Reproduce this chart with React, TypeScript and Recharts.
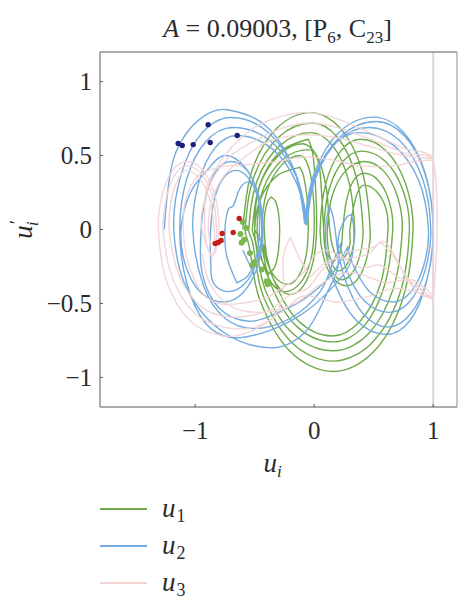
import { ComposedChart, Line, Scatter, XAxis, YAxis, ReferenceLine, Legend } from 'recharts';

const xTicks = [-1, 0, 1];
const yTicks = [-1, -0.5, 0, 0.5, 1];

// u1 trajectory
const u1Path = [
  [-0.6, 0], [-0.524, 0.395], [-0.315, 0.684], [-0.03, 0.79], [0.22, 0.684], [0.403, 0.395], [0.47, 0], [0.443, -0.19], [0.37, -0.33], [0.27, -0.38], [0.16, -0.33], [0.08, -0.19], [0.05, 0], [0.096, 0.305], [0.22, 0.528], [0.39, 0.61], [0.61, 0.528], [0.77, 0.305], [0.83, 0], [0.74, -0.48], [0.495, -0.83], [0.16, -0.96], [-0.195, -0.83], [-0.455, -0.48], [-0.55, -0.1],
  [-0.58, 0], [-0.505, 0.36], [-0.3, 0.624], [-0.02, 0.72], [0.195, 0.624], [0.352, 0.36], [0.41, 0], [0.385, -0.17], [0.32, -0.294], [0.23, -0.34], [0.155, -0.294], [0.1, -0.17], [0.08, 0], [0.123, 0.265], [0.24, 0.46], [0.4, 0.53], [0.6, 0.46], [0.746, 0.265], [0.8, 0], [0.715, -0.445], [0.48, -0.77], [0.16, -0.89], [-0.18, -0.77], [-0.43, -0.445], [-0.52, -0.08],
  [-0.55, 0], [-0.48, 0.328], [-0.29, 0.567], [-0.03, 0.655], [0.155, 0.567], [0.29, 0.328], [0.34, 0], [0.32, -0.14], [0.27, -0.242], [0.2, -0.28], [0.155, -0.242], [0.12, -0.14], [0.11, 0], [0.152, 0.23], [0.265, 0.398], [0.42, 0.46], [0.58, 0.398], [0.697, 0.23], [0.74, 0], [0.66, -0.41], [0.45, -0.71], [0.16, -0.82], [-0.17, -0.71], [-0.41, -0.41], [-0.5, -0.06],
  [-0.52, 0], [-0.457, 0.305], [-0.285, 0.528], [-0.05, 0.61], [-0.015, 0.528], [0.01, 0.305], [0.02, 0], [-0.01, -0.22], [-0.09, -0.38], [-0.2, -0.44], [-0.31, -0.38], [-0.39, -0.22], [-0.42, 0], [-0.415, 0.11], [-0.39, 0.19], [-0.36, 0.22], [-0.325, 0.19], [-0.3, 0.11], [-0.29, 0], [-0.3, -0.14], [-0.33, -0.25], [-0.38, -0.3], [-0.47, -0.15],
  [-0.5, 0], [-0.45, 0.21], [-0.31, 0.364], [-0.12, 0.42], [-0.09, 0.364], [-0.06, 0.21], [-0.05, 0], [-0.07, -0.185], [-0.135, -0.32], [-0.22, -0.37], [-0.33, -0.32], [-0.41, -0.185], [-0.44, 0],
  [-0.4, 0.25], [-0.28, 0.43], [-0.12, 0.5], [-0.05, 0.43], [-0.01, 0.25], [0, 0], [-0.03, -0.21], [-0.12, -0.364], [-0.25, -0.42], [-0.36, -0.36], [-0.44, -0.2], [-0.48, 0],
  [-0.43, 0.27], [-0.27, 0.47], [-0.05, 0.54], [0.03, 0.47], [0.06, 0.27], [0.08, 0], [0.1, -0.15], [0.16, -0.22], [0.22, -0.15], [0.24, 0], [0.27, 0.19], [0.33, 0.33], [0.42, 0.38], [0.54, 0.33], [0.63, 0.19], [0.66, 0], [0.59, -0.38], [0.41, -0.66], [0.16, -0.76], [-0.14, -0.66], [-0.36, -0.38], [-0.46, -0.05],
  [-0.5, 0], [-0.46, 0.29], [-0.3, 0.5], [-0.1, 0.58], [0.02, 0.5], [0.1, 0.29], [0.13, 0], [0.15, -0.1], [0.18, -0.17], [0.22, -0.2], [0.27, -0.17], [0.3, -0.1], [0.3, 0], [0.33, 0.15], [0.37, 0.26], [0.42, 0.3], [0.52, 0.26], [0.6, 0.15], [0.62, 0], [0.56, -0.36], [0.385, -0.62], [0.15, -0.72], [-0.13, -0.62], [-0.33, -0.36], [-0.42, -0.1],
];

// u2 trajectory
const u2Path = [
  [-1.26, 0], [-1.2, 0.42], [-1.1, 0.62], [-0.92, 0.77], [-0.73, 0.81], [-0.405, 0.7], [-0.17, 0.405], [-0.08, 0.04], [0, 0.38], [0.21, 0.658], [0.5, 0.76], [0.75, 0.658], [0.933, 0.38], [1, 0], [0.943, -0.355], [0.805, -0.615], [0.61, -0.71], [0.355, -0.615], [0.168, -0.355], [0.1, -0.12], [0.1, 0.05], [0.13, 0.155], [0.16, 0.08], [0.19, -0.1], [0.2, -0.25], [0.125, -0.4], [-0.075, -0.693], [-0.35, -0.8], [-0.765, -0.693], [-1.07, -0.4],
  [-1.18, 0], [-1.116, 0.378], [-0.94, 0.656], [-0.7, 0.757], [-0.385, 0.656], [-0.155, 0.378], [-0.07, 0.03], [0.01, 0.365], [0.225, 0.632], [0.52, 0.73], [0.76, 0.632], [0.936, 0.365], [1, 0], [0.95, -0.33], [0.81, -0.57], [0.62, -0.66], [0.41, -0.57], [0.256, -0.33], [0.2, -0.1], [0.22, 0], [0.27, 0.08], [0.31, 0.1], [0.33, 0.03], [0.33, -0.12], [0.29, -0.25], [0.12, -0.42], [-0.1, -0.57], [-0.4, -0.69], [-0.7, -0.73], [-0.915, -0.632], [-1.07, -0.365],
  [-1.13, 0], [-1.07, 0.345], [-0.905, 0.6], [-0.68, 0.69], [-0.37, 0.6], [-0.143, 0.345], [-0.06, 0.03], [0.01, 0.345], [0.2, 0.6], [0.46, 0.69], [0.72, 0.6], [0.91, 0.345], [0.98, 0], [0.93, -0.28], [0.805, -0.485], [0.63, -0.56], [0.425, -0.485], [0.275, -0.28], [0.22, -0.1], [0.17, -0.2], [0.05, -0.42], [-0.2, -0.6], [-0.5, -0.67], [-0.75, -0.6], [-0.93, -0.38],
  [-1.02, 0], [-0.97, 0.318], [-0.835, 0.55], [-0.65, 0.635], [-0.36, 0.55], [-0.15, 0.318], [-0.07, 0.03], [-0.01, 0.328], [0.155, 0.567], [0.38, 0.655], [0.67, 0.567], [0.88, 0.328], [0.96, 0], [0.92, -0.245], [0.81, -0.424], [0.66, -0.49], [0.47, -0.424], [0.33, -0.245], [0.28, -0.12], [0.15, -0.3], [-0.05, -0.45], [-0.3, -0.56], [-0.55, -0.62], [-0.8, -0.53],
  [-0.94, -0.3], [-0.95, 0], [-0.908, 0.23], [-0.82, 0.4], [-0.7, 0.46], [-0.565, 0.4], [-0.466, 0.23], [-0.43, 0], [-0.475, -0.245], [-0.595, -0.424], [-0.76, -0.49], [-0.955, -0.424], [-1.08, -0.245], [-1.12, 0], [-1.04, 0.25], [-0.9, 0.4], [-0.75, 0.5], [-0.58, 0.42], [-0.48, 0.25],
  [-0.44, 0], [-0.48, -0.21], [-0.58, -0.364], [-0.72, -0.42], [-0.845, -0.364], [-0.87, -0.21], [-0.87, 0], [-0.84, 0.2], [-0.765, 0.346], [-0.66, 0.4], [-0.55, 0.346], [-0.47, 0.2],
  [-0.46, 0], [-0.485, -0.18], [-0.555, -0.31], [-0.65, -0.36], [-0.735, -0.18], [-0.75, 0], [-0.72, 0.14], [-0.68, 0.16], [-0.625, 0.277], [-0.56, 0.32], [-0.495, 0.277], [-0.447, 0.16], [-0.43, 0], [-0.45, -0.16], [-0.53, -0.26], [-0.6, -0.14],
];

// u3 trajectory
const u3Path = [
  [1, 0.47], [1, -0.47], [0.9, -0.44], [0.8, -0.36], [0.7, -0.22], [0.6, -0.12], [0.55, -0.09], [0.47, -0.16], [0.33, -0.19], [0.13, -0.21], [-0.03, -0.32], [-0.12, -0.2], [-0.2, -0.05], [-0.26, -0.18], [-0.26, -0.4], [-0.33, -0.58], [-0.54, -0.69], [-0.76, -0.72], [-1.035, -0.624], [-1.236, -0.36], [-1.31, 0], [-1.278, 0.23], [-1.19, 0.4], [-1.07, 0.46], [-0.935, 0.4], [-0.834, 0.23], [-0.8, 0], [-0.83, -0.15], [-0.87, -0.17], [-0.91, -0.08], [-0.92, 0.05], [-0.9, 0.3], [-0.76, 0.49], [-0.6, 0.63], [-0.43, 0.72], [-0.2, 0.78], [-0.03, 0.79], [0.19, 0.75], [0.47, 0.655], [0.75, 0.55],
  [1, 0.47], [1, -0.47], [0.85, -0.42], [0.66, -0.4], [0.47, -0.45], [0.19, -0.49], [-0.09, -0.45], [-0.26, -0.55], [-0.5, -0.66], [-0.76, -0.66], [-1, -0.57], [-1.19, -0.33], [-1.27, 0], [-1.24, 0.22], [-1.17, 0.37], [-1.07, 0.43], [-0.94, 0.37], [-0.85, 0.21], [-0.82, 0], [-0.83, -0.12], [-0.86, -0.19], [-0.9, -0.12], [-0.95, 0.04], [-0.92, 0.2], [-0.84, 0.36], [-0.7, 0.5], [-0.5, 0.6], [-0.25, 0.69], [-0.03, 0.72], [0.19, 0.69], [0.47, 0.61], [0.75, 0.52],
  [1, 0.46], [1, -0.46], [0.88, -0.4], [0.76, -0.3], [0.65, -0.14], [0.58, -0.08], [0.5, -0.12], [0.36, -0.14], [0.2, -0.18], [0.06, -0.28], [-0.06, -0.4], [-0.2, -0.44], [-0.36, -0.54], [-0.6, -0.59], [-0.8, -0.58], [-0.98, -0.5], [-1.14, -0.3], [-1.22, 0], [-1.2, 0.2], [-1.15, 0.33], [-1.07, 0.4], [-0.95, 0.33], [-0.87, 0.18], [-0.84, 0], [-0.84, -0.08], [-0.87, -0.1], [-0.89, 0.02], [-0.86, 0.2], [-0.76, 0.36], [-0.6, 0.48], [-0.37, 0.6], [-0.09, 0.64], [0.19, 0.62], [0.47, 0.56], [0.75, 0.5],
  [1, 0.48], [1, -0.48], [0.86, -0.38], [0.7, -0.32], [0.55, -0.24], [0.4, -0.26], [0.22, -0.18], [0.1, -0.14], [0, -0.18], [-0.1, -0.3], [-0.24, -0.38], [-0.4, -0.46], [-0.62, -0.5], [-0.8, -0.5], [-0.95, -0.42], [-1.06, -0.22], [-1.1, 0], [-1.08, 0.2], [-0.98, 0.36], [-0.8, 0.42], [-0.55, 0.44], [-0.3, 0.46], [-0.09, 0.49], [0.15, 0.47], [0.4, 0.43], [0.66, 0.43], [0.85, 0.46],
  [1, 0.47], [1, -0.45], [0.82, -0.34], [0.6, -0.36], [0.38, -0.3], [0.22, -0.3], [0.04, -0.38], [-0.16, -0.5], [-0.42, -0.56], [-0.7, -0.52], [-0.88, -0.36], [-0.94, -0.16],
];

const u1Dots = [
  [-0.6, 0.05], [-0.57, 0.01], [-0.62, -0.03], [-0.59, -0.07], [-0.61, -0.09], [-0.54, -0.16], [-0.5, -0.22], [-0.52, -0.24], [-0.44, -0.27], [-0.4, -0.35], [-0.39, -0.37],
];
const u2Dots = [
  [-1.143, 0.581], [-1.109, 0.568], [-1.017, 0.574], [-0.891, 0.709], [-0.874, 0.588], [-0.647, 0.635],
];
const u3Dots = [
  [-0.63, 0.074], [-0.773, -0.027], [-0.681, -0.02], [-0.832, -0.095], [-0.807, -0.088], [-0.782, -0.074],
];

const toRows = (rows: number[][]) => rows.map(([u, v]) => ({ u, v }));

const serif = '"Liberation Serif", serif';
const ink = '#2b2b2b';
const frame = '#5a5a5a';
const colorU1 = '#6fab4a';
const colorU2 = '#74abe0';
const colorU3 = '#f2d3d4';

const unit = (a: number[], b: number[]) => {
  const dx = b[0] - a[0], dy = b[1] - a[1];
  const len = Math.hypot(dx, dy) || 1;
  return [dx / len, dy / len];
};

// smooth path through the read points; handles follow the chord length,
// and a vertex that turns hard (the wall at u = 1, the cusps) stays a corner
const throughPoints = (ctx: any) => {
  let pts: number[][] = [];
  const tangent = (i: number) => {
    const a = pts[Math.max(i - 1, 0)], b = pts[i], c = pts[Math.min(i + 1, pts.length - 1)];
    const p = unit(a, b), q = unit(b, c);
    if (p[0] * q[0] + p[1] * q[1] < 0.1) return [0, 0];
    return unit(a, c);
  };
  return {
    areaStart() {},
    areaEnd() {},
    lineStart() { pts = []; },
    point(x: number, y: number) { pts.push([+x, +y]); },
    lineEnd() {
      if (!pts.length) return;
      ctx.moveTo(pts[0][0], pts[0][1]);
      for (let i = 0; i < pts.length - 1; i++) {
        const b = pts[i], c = pts[i + 1];
        const h = Math.hypot(c[0] - b[0], c[1] - b[1]) / 3;
        const s = tangent(i), t = tangent(i + 1);
        ctx.bezierCurveTo(b[0] + s[0] * h, b[1] + s[1] * h, c[0] - t[0] * h, c[1] - t[1] * h, c[0], c[1]);
      }
    },
  };
};

const dot = (fill: string, r: number) => (p: any) => <circle cx={p.cx} cy={p.cy} r={r} fill={fill} />;

const fmt = (t: number) => String(t).replace('-', '\u2212');

const LegendBox = ({ payload }: any) => (
  <div style={{ fontFamily: serif, color: ink }}>
    {(payload || []).filter((p: any) => p.type !== 'none').map((p: any, i: number) => (
      <div key={i} style={{ display: 'flex', alignItems: 'center', height: 37 }}>
        <div style={{ width: 47, height: 2, background: p.color, marginRight: 15 }} />
        <span style={{ fontStyle: 'italic', fontSize: 27 }}>u</span>
        <span style={{ fontSize: 18, position: 'relative', top: 8, marginLeft: 1 }}>{i + 1}</span>
      </div>
    ))}
  </div>
);

const App = () => (
  <div style={{ position: 'absolute', left: 0, top: 0, width: 474, height: 607, background: '#fff' }}>
    <div style={{ position: 'absolute', left: 0, width: 555, top: 14, textAlign: 'center', fontFamily: serif, fontSize: 26, color: ink, whiteSpace: 'nowrap' }}>
      <i>A</i> = 0.09003, [P<sub style={{ fontSize: 17, lineHeight: 0 }}>6</sub>, C<sub style={{ fontSize: 17, lineHeight: 0 }}>23</sub>]
    </div>
    <ComposedChart width={474} height={607} margin={{ top: 51, right: 16, bottom: 140, left: 40 }}>
      <XAxis
        dataKey="u" type="number" domain={[-1.8, 1.2]} ticks={xTicks} allowDataOverflow
        height={60} tickSize={-3} tickMargin={17} tickFormatter={fmt}
        stroke={frame} tick={{ fontFamily: serif, fontSize: 25, fill: ink }}
        label={(p: any) => (
          <text x={p.viewBox.x + p.viewBox.width / 2 - 6} y={472} fontFamily={serif} fill={ink} textAnchor="middle">
            <tspan fontStyle="italic" fontSize={27}>u</tspan>
            <tspan fontStyle="italic" fontSize={17} dy={5}>i</tspan>
          </text>
        )}
      />
      <XAxis xAxisId="top" orientation="top" type="number" domain={[-1.8, 1.2]} ticks={xTicks} height={1} tickSize={-3} tick={false} stroke={frame} />
      <YAxis
        dataKey="v" type="number" domain={[-1.2, 1.2]} ticks={yTicks} allowDataOverflow
        width={60} tickSize={-3} tickMargin={11} tickFormatter={fmt}
        stroke={frame} tick={{ fontFamily: serif, fontSize: 25, fill: ink }}
        label={() => (
          <text x={0} y={0} transform="translate(32 230) rotate(-90)" fontFamily={serif} fill={ink} textAnchor="middle">
            <tspan fontStyle="italic" fontSize={27}>u</tspan>
            <tspan fontStyle="italic" fontSize={18} dy={-9}>{'\u2032'}</tspan>
            <tspan fontStyle="italic" fontSize={17} dy={15} dx={-5}>i</tspan>
          </text>
        )}
      />
      <YAxis yAxisId="right" orientation="right" type="number" domain={[-1.2, 1.2]} ticks={yTicks} width={1} tickSize={-3} tick={false} stroke="#8c8c8c" />

      <ReferenceLine x={1} stroke="#d8d8dc" strokeWidth={2} />

      <Line data={toRows(u1Path)} dataKey="v" name="u1" type={throughPoints as any} stroke={colorU1} strokeWidth={1.4} dot={false} isAnimationActive={false} />
      <Line data={toRows(u2Path)} dataKey="v" name="u2" type={throughPoints as any} stroke={colorU2} strokeWidth={1.4} dot={false} isAnimationActive={false} />
      <Line data={toRows(u3Path)} dataKey="v" name="u3" type={throughPoints as any} stroke={colorU3} strokeWidth={1.4} strokeOpacity={0.9} dot={false} isAnimationActive={false} />

      <Scatter data={toRows(u1Dots)} dataKey="v" legendType="none" shape={dot('#7cb84f', 3)} isAnimationActive={false} />
      <Scatter data={toRows(u2Dots)} dataKey="v" legendType="none" shape={dot('#1f1f7a', 2.7)} isAnimationActive={false} />
      <Scatter data={toRows(u3Dots)} dataKey="v" legendType="none" shape={dot('#c4201a', 2.7)} isAnimationActive={false} />

      <Legend layout="horizontal" verticalAlign="middle" content={<LegendBox />} wrapperStyle={{ left: 100, top: 490, width: 110, height: 111 }} />
    </ComposedChart>
  </div>
);

export default App;
